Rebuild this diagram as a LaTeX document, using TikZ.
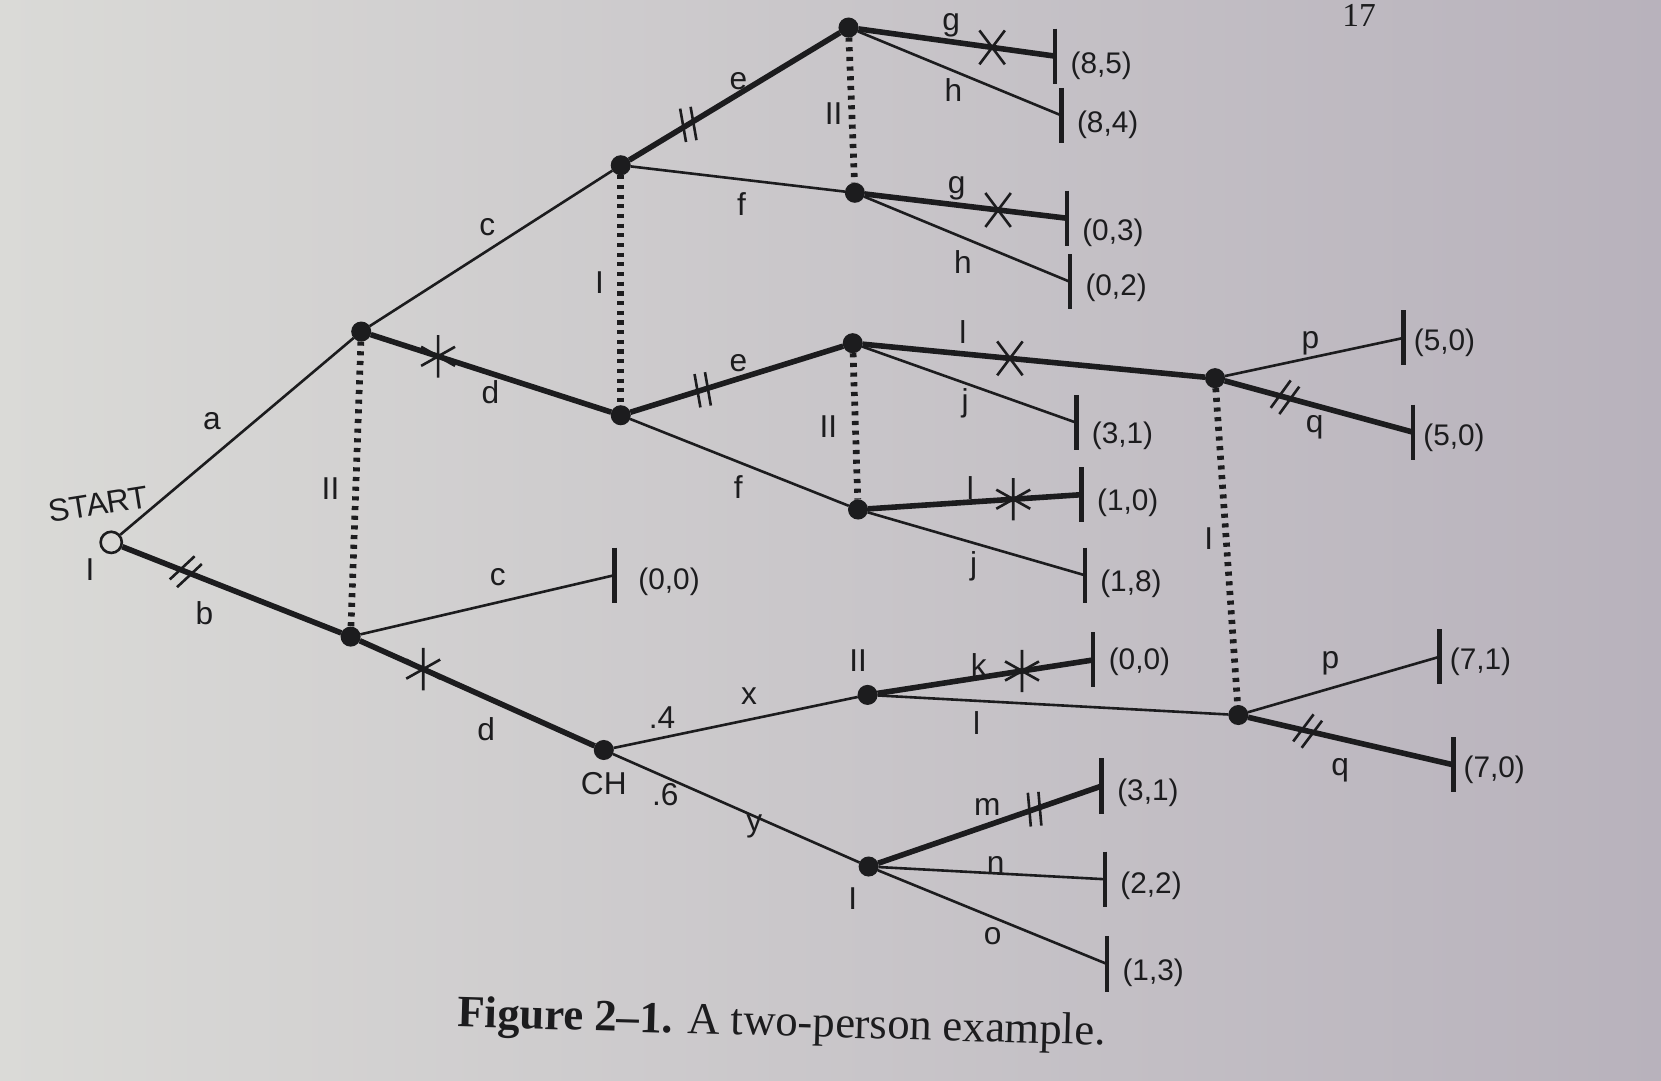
\documentclass[tikz,border=0pt]{standalone}
\usepackage{fontspec}
\setmainfont{Liberation Serif}
\setsansfont{Liberation Sans}
\usetikzlibrary{positioning}

\definecolor{ink}{RGB}{28,28,30}
\definecolor{paperl}{RGB}{218,218,215}
\definecolor{paperr}{RGB}{184,178,188}

\tikzset{
  pnode/.style={circle, fill=ink, draw=ink, inner sep=0pt, minimum size=1.75mm},
  startnode/.style={circle, draw=ink, line width=0.7pt, inner sep=0pt, minimum size=2mm},
  mv/.style={draw=ink, line width=0.7pt},
  best/.style={draw=ink, line width=1.5pt},
  infoset/.style={draw=ink, line width=1.8pt, dash pattern=on 1.1pt off 1.5pt},
  termbar/.style={draw=ink, line width=1.2pt},
  lbl/.style={font=\sffamily\fontsize{8.5}{10}\selectfont, text=ink, inner sep=1pt},
  pay/.style={font=\sffamily\fontsize{8}{9}\selectfont, text=ink, inner sep=0pt},
  dslash/.pic={\draw[ink, line width=0.7pt] (-0.05,-0.16) -- (-0.05,0.16) (0.05,-0.16) -- (0.05,0.16);},
  xmark/.pic={\draw[ink, line width=0.7pt] (-0.12,-0.16) -- (0.12,0.16) (-0.12,0.16) -- (0.12,-0.16);},
  starmark/.pic={\draw[ink, line width=0.7pt] (0,-0.2) -- (0,0.2) (-0.16,-0.09) -- (0.16,0.09) (-0.16,0.09) -- (0.16,-0.09);}
}

\begin{document}
\begin{tikzpicture}

            \shade[left color=paperl, right color=paperr] (0,-10.2) rectangle (15.68,0);
            \useasboundingbox (0,-10.2) rectangle (15.68,0);

            \node[startnode] (R) at (1.05,-5.12) {};
            \node[pnode] (A) at (3.41,-3.13) {};
            \node[pnode] (B) at (3.31,-6.01) {};
            \node[pnode] (C) at (5.86,-1.56) {};
            \node[pnode] (D) at (5.86,-3.92) {};
            \node[pnode] (CH) at (5.70,-7.08) {};
            \node[pnode] (E1) at (8.01,-0.26) {};
            \node[pnode] (F1) at (8.07,-1.82) {};
            \node[pnode] (E2) at (8.05,-3.24) {};
            \node[pnode] (F2) at (8.10,-4.81) {};
            \node[pnode] (X) at (8.19,-6.56) {};
            \node[pnode] (Y) at (8.20,-8.18) {};
            \node[pnode] (L1) at (11.47,-3.57) {};
            \node[pnode] (L2) at (11.69,-6.75) {};

            \coordinate (tc) at (5.80,-5.43);
            \coordinate (tg1) at (9.96,-0.53);
            \coordinate (th1) at (10.02,-1.09);
            \coordinate (tg2) at (10.07,-2.06);
            \coordinate (th2) at (10.10,-2.66);
            \coordinate (tj1) at (10.16,-3.99);
            \coordinate (tl2) at (10.21,-4.67);
            \coordinate (tj2) at (10.24,-5.43);
            \coordinate (tk) at (10.32,-6.23);
            \coordinate (tm) at (10.40,-7.42);
            \coordinate (tn) at (10.43,-8.30);
            \coordinate (tob) at (10.45,-9.10);
            \coordinate (tp1) at (13.25,-3.19);
            \coordinate (tq1) at (13.34,-4.08);
            \coordinate (tp2) at (13.59,-6.20);
            \coordinate (tq2) at (13.72,-7.22);

            \draw[infoset] (A) -- (B);
            \draw[infoset] (C) -- (D);
            \draw[infoset] (E1) -- (F1);
            \draw[infoset] (E2) -- (F2);
            \draw[infoset] (L1) -- (L2);

            \draw[mv] (R) -- (A);
            \draw[best] (R) -- (B) pic[pos=.29, rotate=-47] {dslash};
            \draw[mv] (A) -- (C);
            \draw[best] (A) -- (D) pic[pos=.28] {starmark};
            \draw[mv] (B) -- (tc);
            \draw[best] (B) -- (CH) pic[pos=.27] {starmark};

            \draw[best] (C) -- (E1) pic[pos=.28, rotate=10] {dslash};
            \draw[mv] (C) -- (F1);
            \draw[best] (D) -- (E2) pic[pos=.34, rotate=10] {dslash};
            \draw[mv] (D) -- (F2);
            \draw[mv] (CH) -- (X);
            \draw[mv] (CH) -- (Y);

            \draw[best] (E1) -- (tg1) pic[pos=.68] {xmark};
            \draw[mv] (E1) -- (th1);
            \draw[best] (F1) -- (tg2) pic[pos=.66] {xmark};
            \draw[mv] (F1) -- (th2);
            \draw[best] (E2) -- (L1) pic[pos=.43] {xmark};
            \draw[mv] (E2) -- (tj1);
            \draw[best] (F2) -- (tl2) pic[pos=.68] {starmark};
            \draw[mv] (F2) -- (tj2);
            \draw[best] (X) -- (tk) pic[pos=.67] {starmark};
            \draw[mv] (X) -- (L2);
            \draw[best] (Y) -- (tm) pic[pos=.70, rotate=5] {dslash};
            \draw[mv] (Y) -- (tn);
            \draw[mv] (Y) -- (tob);

            \draw[mv] (L1) -- (tp1);
            \draw[best] (L1) -- (tq1) pic[pos=.32, rotate=-36] {dslash};
            \draw[mv] (L2) -- (tp2);
            \draw[best] (L2) -- (tq2) pic[pos=.29, rotate=-37] {dslash};

            \foreach \t in {tc,tg1,th1,tg2,th2,tj1,tl2,tj2,tk,tm,tn,tob,tp1,tq1,tp2,tq2}
                \draw[termbar] ([yshift=2.6mm]\t) -- ([yshift=-2.6mm]\t);

            \node[pay, right=2.2mm of tc, yshift=-0.6mm] (vc) {(0,0)};
            \node[pay, right=1.4mm of tg1, yshift=-0.9mm] (vg1) {(8,5)};
            \node[pay, right=1.4mm of th1, yshift=-0.9mm] (vh1) {(8,4)};
            \node[pay, right=1.4mm of tg2, yshift=-1.4mm] (vg2) {(0,3)};
            \node[pay, right=1.4mm of th2, yshift=-0.6mm] (vh2) {(0,2)};
            \node[pay, right=1.4mm of tj1, yshift=-1.2mm] (vj1) {(3,1)};
            \node[pay, right=1.4mm of tl2, yshift=-0.8mm] (vl2) {(1,0)};
            \node[pay, right=1.4mm of tj2, yshift=-0.8mm] (vj2) {(1,8)};
            \node[pay, right=1.4mm of tk, yshift=-0.2mm] (vk) {(0,0)};
            \node[pay, right=1.4mm of tm, yshift=-0.6mm] (vm) {(3,1)};
            \node[pay, right=1.4mm of tn, yshift=-0.6mm] (vn) {(2,2)};
            \node[pay, right=1.4mm of tob, yshift=-0.8mm] (vo) {(1,3)};
            \node[pay, right=0.9mm of tp1, yshift=-0.5mm] (vp1) {(5,0)};
            \node[pay, right=0.9mm of tq1, yshift=-0.5mm] (vq1) {(5,0)};
            \node[pay, right=0.9mm of tp2, yshift=-0.5mm] (vp2) {(7,1)};
            \node[pay, right=0.9mm of tq2, yshift=-0.5mm] (vq2) {(7,0)};

            \node[lbl, rotate=9] (st) at (0.93,-4.76) {START};
            \node[lbl] (pR) at (0.85,-5.38) {I};
            \node[lbl] (pAB) at (3.12,-4.61) {II};
            \node[lbl] (pCD) at (5.66,-2.67) {I};
            \node[lbl] (pE1) at (7.87,-1.07) {II};
            \node[lbl] (pE2) at (7.82,-4.03) {II};
            \node[lbl] (pL) at (11.41,-5.08) {I};
            \node[lbl] (pX) at (8.10,-6.24) {II};
            \node[lbl] (pY) at (8.05,-8.48) {I};
            \node[lbl] (pCH) at (5.70,-7.40) {CH};

            \node[lbl] (la) at (2.00,-3.98) {a};
            \node[lbl] (lb) at (1.93,-5.79) {b};
            \node[lbl] (lc1) at (4.60,-2.14) {c};
            \node[lbl] (ld1) at (4.63,-3.70) {d};
            \node[lbl] (lc2) at (4.70,-5.45) {c};
            \node[lbl] (ld2) at (4.59,-6.88) {d};
            \node[lbl] (le1) at (6.97,-0.77) {e};
            \node[lbl] (lf1) at (7.00,-1.93) {f};
            \node[lbl] (le2) at (6.97,-3.43) {e};
            \node[lbl] (lf2) at (6.97,-4.60) {f};
            \node[lbl] (lg1) at (8.98,-0.24) {g};
            \node[lbl] (lh1) at (9.00,-0.85) {h};
            \node[lbl] (lg2) at (9.03,-1.78) {g};
            \node[lbl] (lh2) at (9.09,-2.47) {h};
            \node[lbl] (ll1) at (9.09,-3.13) {l};
            \node[lbl] (lj1) at (9.11,-3.81) {j};
            \node[lbl] (ll2) at (9.16,-4.61) {l};
            \node[lbl] (lj2) at (9.19,-5.35) {j};
            \node[lbl] (lk) at (9.24,-6.28) {k};
            \node[lbl] (ll3) at (9.22,-6.83) {l};
            \node[lbl] (lm) at (9.32,-7.62) {m};
            \node[lbl] (ln) at (9.40,-8.17) {n};
            \node[lbl] (lo) at (9.37,-8.84) {o};
            \node[lbl] (lp1) at (12.37,-3.24) {p};
            \node[lbl] (lq1) at (12.41,-4.03) {q};
            \node[lbl] (lp2) at (12.56,-6.26) {p};
            \node[lbl] (lq2) at (12.65,-7.27) {q};
            \node[lbl] (lx) at (7.07,-6.57) {x};
            \node[lbl] (ly) at (7.12,-7.80) {y};
            \node[lbl] (l4) at (6.25,-6.77) {.4};
            \node[lbl] (l6) at (6.28,-7.50) {.6};

            \node[text=ink, font=\fontsize{12}{14}\selectfont, rotate=-1.6] (cap) at (7.38,-9.68) {\textbf{Figure 2–1.} A two-person example.};
            \node[text=ink, font=\fontsize{9}{10}\selectfont, anchor=north, inner sep=0pt] (pg) at (12.83,-0.03) {17};

\end{tikzpicture}
\end{document}
